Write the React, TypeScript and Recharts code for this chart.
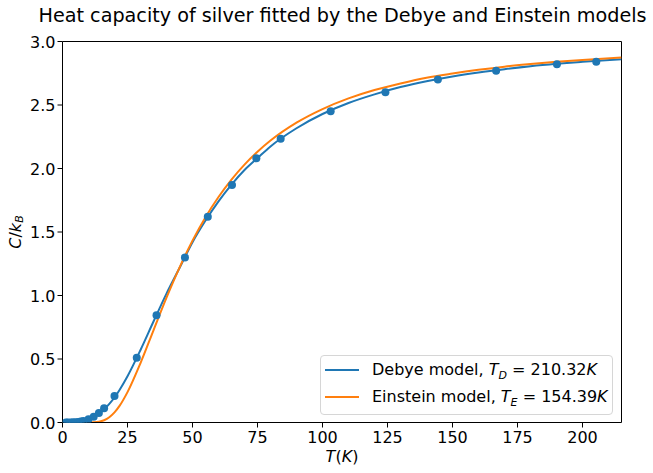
import React from 'react';
import {
  ComposedChart,
  Line,
  Scatter,
  XAxis,
  YAxis,
  Legend,
  ReferenceLine,
} from 'recharts';

// Measured data (temperature in K, heat capacity in units of k_B)
const MEAS_T = [1.35, 2, 3, 4, 5, 6, 7, 8, 10, 12, 14, 16, 20, 28.56, 36.16, 47.09, 55.88, 65.19, 74.56, 83.91, 103.14, 124.2, 144.38, 166.78, 190.17, 205.3];
const MEAS_C = [0.0001, 0.0002, 0.0006, 0.0015, 0.0028, 0.0048, 0.008, 0.0125, 0.026, 0.046, 0.075, 0.112, 0.209, 0.51, 0.845, 1.3, 1.62, 1.87, 2.08, 2.235, 2.45, 2.6, 2.7, 2.77, 2.82, 2.84];

// Fitted curves
const FIT_T = [0, 2, 4, 6, 8, 10, 12, 14, 16, 18, 20, 22, 25, 30, 35, 40, 45, 50, 55, 60, 65, 70, 75, 80, 90, 100, 110, 120, 130, 140, 150, 160, 170, 180, 190, 200, 215];
const DEBYE_C = [0, 0.0002, 0.0016, 0.0054, 0.0129, 0.0251, 0.0434, 0.0689, 0.1026, 0.146, 0.197, 0.258, 0.364, 0.571, 0.795, 1.015, 1.216, 1.419, 1.59, 1.741, 1.873, 1.988, 2.082, 2.174, 2.317, 2.429, 2.516, 2.584, 2.641, 2.687, 2.725, 2.756, 2.782, 2.805, 2.824, 2.84, 2.861];
const EINSTEIN_C = [0, 0, 0, 0, 0, 0.0001, 0.0013, 0.0059, 0.018, 0.0416, 0.0794, 0.1325, 0.239, 0.468, 0.726, 0.983, 1.22, 1.432, 1.617, 1.776, 1.913, 2.031, 2.132, 2.22, 2.361, 2.468, 2.552, 2.618, 2.67, 2.715, 2.748, 2.777, 2.802, 2.822, 2.84, 2.855, 2.874];

const X_TICKS = [0, 25, 50, 75, 100, 125, 150, 175, 200];
const Y_TICKS = [0, 0.5, 1.0, 1.5, 2.0, 2.5, 3.0];
const X_MAX = 215;
const Y_MAX = 3;

const TITLE = 'Heat capacity of silver fitted by the Debye and Einstein models';

const BLUE = '#1f77b4';
const ORANGE = '#ff7f0e';
const FONT = '"DejaVu Sans", sans-serif';

const measData = MEAS_T.map((t, i) => ({ T: t, C: MEAS_C[i] }));
const debyeData = FIT_T.map((t, i) => ({ T: t, C: DEBYE_C[i] }));
const einsteinData = FIT_T.map((t, i) => ({ T: t, C: EINSTEIN_C[i] }));

const XTick = (props: any) => {
  const { x, y, payload } = props;
  return (
    <text x={x} y={y + 15} textAnchor="middle" fontSize={16} fontFamily={FONT} fill="#000">
      {payload.value}
    </text>
  );
};

const YTick = (props: any) => {
  const { x, y, payload } = props;
  return (
    <text x={x - 2} y={y + 6} textAnchor="end" fontSize={16} fontFamily={FONT} fill="#000">
      {Number(payload.value).toFixed(1)}
    </text>
  );
};

const XLabel = (props: any) => {
  const vb = props.viewBox || {};
  const cx = vb.x + vb.width / 2;
  return (
    <text x={cx} y={462} textAnchor="middle" fontSize={16} fontFamily={FONT} fill="#000">
      <tspan fontStyle="italic">T</tspan>
      <tspan>(</tspan>
      <tspan fontStyle="italic">K</tspan>
      <tspan>)</tspan>
    </text>
  );
};

const YLabel = (props: any) => {
  const vb = props.viewBox || {};
  const cy = vb.y + vb.height / 2;
  return (
    <text
      x={0}
      y={0}
      transform={`translate(20.5, ${cy}) rotate(-90)`}
      textAnchor="middle"
      fontSize={16}
      fontFamily={FONT}
      fill="#000"
    >
      <tspan fontStyle="italic">C</tspan>
      <tspan>/</tspan>
      <tspan fontStyle="italic">k</tspan>
      <tspan fontStyle="italic" fontSize={11} dy={2.5}>B</tspan>
    </text>
  );
};

const LegendBox = () => {
  const rows = [
    { color: BLUE, name: 'Debye model, ', sym: 'T', sub: 'D', val: '210.32' },
    { color: ORANGE, name: 'Einstein model, ', sym: 'T', sub: 'E', val: '154.39' },
  ];
  return (
    <div
      style={{
        position: 'relative',
        width: 293,
        height: 60,
        boxSizing: 'border-box',
        border: '1px solid #d6d6d6',
        borderRadius: 4,
        background: 'rgba(255,255,255,0.8)',
        fontFamily: FONT,
        fontSize: 16,
        color: '#000',
      }}
    >
      {rows.map((r, i) => (
        <div key={i} style={{ position: 'absolute', left: 0, top: 14 + 27 * i - 10, height: 20, width: '100%' }}>
          <div style={{ position: 'absolute', left: 4, top: 9, width: 34, height: 2, background: r.color }} />
          <div style={{ position: 'absolute', left: 51, top: 0, lineHeight: '20px', whiteSpace: 'nowrap' }}>
            {r.name}
            <span style={{ fontStyle: 'italic' }}>{r.sym}</span>
            <span style={{ fontStyle: 'italic', fontSize: 11, position: 'relative', top: 4 }}>{r.sub}</span>
            <span> = {r.val}</span>
            <span style={{ fontStyle: 'italic' }}>K</span>
          </div>
        </div>
      ))}
    </div>
  );
};

export default function App() {
  return (
    <div style={{ position: 'absolute', left: 0, top: 0, width: 653, height: 473, background: '#fff', overflow: 'hidden' }}>
      <div
        style={{
          position: 'absolute',
          left: 342.5 - 400,
          width: 800,
          top: 4,
          textAlign: 'center',
          fontFamily: FONT,
          fontSize: 19.2,
          lineHeight: '24px',
          whiteSpace: 'nowrap',
          color: '#000',
        }}
      >
        {TITLE}
      </div>
      <ComposedChart
        width={653}
        height={473}
        margin={{ top: 41.5, right: 31.5, bottom: 0, left: 0 }}
      >
        <XAxis
          xAxisId="main"
          type="number"
          dataKey="T"
          domain={[0, X_MAX]}
          ticks={X_TICKS}
          allowDataOverflow
          height={50.5}
          tickSize={5}
          tickMargin={0}
          tick={<XTick />}
          axisLine={{ stroke: '#000', strokeWidth: 1 }}
          tickLine={{ stroke: '#000', strokeWidth: 1 }}
          label={{ content: <XLabel /> }}
        />
        <YAxis
          yAxisId="main"
          type="number"
          domain={[0, Y_MAX]}
          ticks={Y_TICKS}
          allowDataOverflow
          width={62.5}
          tickSize={5}
          tickMargin={0}
          tick={<YTick />}
          axisLine={{ stroke: '#000', strokeWidth: 1 }}
          tickLine={{ stroke: '#000', strokeWidth: 1 }}
          label={{ content: <YLabel /> }}
        />
        <ReferenceLine xAxisId="main" yAxisId="main" y={Y_MAX} stroke="#000" strokeWidth={1} ifOverflow="extendDomain" />
        <ReferenceLine xAxisId="main" yAxisId="main" x={X_MAX} stroke="#000" strokeWidth={1} ifOverflow="extendDomain" />
        <Scatter
          xAxisId="main"
          yAxisId="main"
          data={measData}
          dataKey="C"
          fill={BLUE}
          shape={(p: any) => <circle cx={p.cx} cy={p.cy} r={4} fill={BLUE} />}
          isAnimationActive={false}
          legendType="none"
        />
        <Line
          xAxisId="main"
          yAxisId="main"
          data={debyeData}
          dataKey="C"
          type="monotone"
          stroke={BLUE}
          strokeWidth={2}
          dot={false}
          activeDot={false}
          isAnimationActive={false}
          name="Debye"
        />
        <Line
          xAxisId="main"
          yAxisId="main"
          data={einsteinData}
          dataKey="C"
          type="monotone"
          stroke={ORANGE}
          strokeWidth={2}
          dot={false}
          activeDot={false}
          isAnimationActive={false}
          name="Einstein"
        />
        <Legend
          layout="horizontal"
          verticalAlign="middle"
          align="center"
          width={293}
          height={60}
          wrapperStyle={{ left: 320, top: 355, width: 293, height: 60 }}
          content={<LegendBox />}
        />
      </ComposedChart>
    </div>
  );
}
